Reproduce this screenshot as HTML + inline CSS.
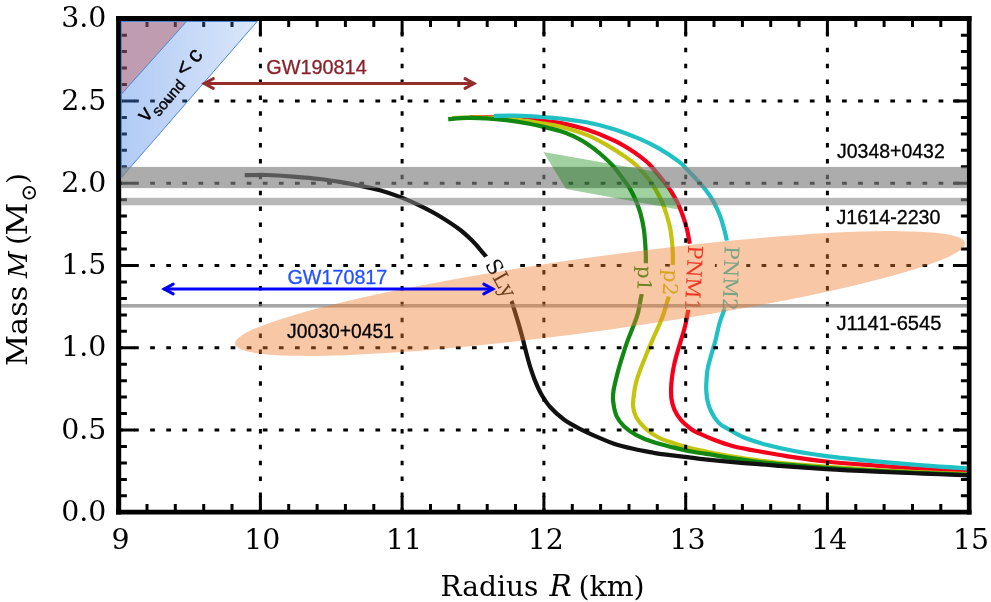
<!DOCTYPE html>
<html><head><meta charset="utf-8"><title>Mass-Radius</title>
<style>
html,body{margin:0;padding:0;background:#fff}
svg{display:block}
.ser{font-family:"DejaVu Serif","Liberation Serif",serif}
.san{font-family:"Liberation Sans","DejaVu Sans",sans-serif}
</style></head><body>
<svg width="991" height="602" viewBox="0 0 991 602">
<defs>
<linearGradient id="bg" gradientUnits="userSpaceOnUse" x1="121" y1="0" x2="257" y2="0"><stop offset="0" stop-color="rgb(73,134,232)" stop-opacity="0.43"/><stop offset="1" stop-color="rgb(73,134,232)" stop-opacity="0.2"/></linearGradient>
<clipPath id="ax"><rect x="118.6" y="18.7" width="850.6" height="493.6"/></clipPath>
</defs>
<rect width="991" height="602" fill="#fff"/>

<g fill="none" stroke-width="4.2" stroke-linecap="butt" stroke-linejoin="round" clip-path="url(#ax)">
<path stroke="#f5001a" d="M470.0 117.0 C476.1 117.1 497.0 117.2 506.4 117.6 C515.8 118.0 520.2 119.0 526.4 119.5 C532.6 120.0 538.1 120.3 543.7 120.9 C549.3 121.5 552.9 121.5 560.0 122.9 C567.1 124.4 577.7 126.7 586.6 129.6 C595.5 132.5 605.5 136.5 613.2 140.2 C621.0 143.8 627.6 147.9 633.1 151.5 C638.6 155.1 643.1 158.7 646.4 161.5 C649.7 164.3 650.3 165.3 653.1 168.5 C655.9 171.7 660.2 176.8 663.2 180.6 C666.2 184.4 668.7 187.5 671.1 191.3 C673.5 195.1 675.8 199.0 677.8 203.2 C679.8 207.4 681.5 212.1 683.1 216.5 C684.7 220.9 686.0 225.2 687.1 229.8 C688.2 234.4 689.3 241.5 689.7 243.8"/>
<path stroke="#f5001a" d="M688.3 309.7 C687.8 312.5 686.2 321.6 685.0 326.6 C683.8 331.6 682.4 335.5 681.1 339.9 C679.8 344.3 678.3 348.8 677.1 353.2 C675.9 357.6 674.6 362.3 673.8 366.4 C672.9 370.4 672.5 373.9 672.0 377.5 C671.5 381.1 671.2 384.7 671.1 388.3 C671.0 391.9 671.0 395.3 671.5 398.9 C672.0 402.4 672.8 406.1 674.4 409.6 C676.0 413.2 678.2 416.9 681.1 420.2 C684.0 423.5 688.6 427.2 691.7 429.5 C694.9 431.8 696.4 432.0 700.0 433.7 C703.6 435.4 707.8 437.4 713.3 439.5 C718.8 441.6 725.5 444.2 733.2 446.2 C741.0 448.2 750.9 449.9 759.8 451.5 C768.7 453.1 775.3 454.4 786.4 456.1 C797.5 457.8 811.3 459.9 826.3 461.5 C841.3 463.1 860.1 464.4 876.2 465.7 C892.4 467.0 907.7 468.1 923.2 469.1 C938.7 470.1 961.4 471.3 969.0 471.7"/>
<path stroke="#c4c410" d="M452.0 118.0 C456.1 117.9 467.4 117.2 476.5 117.3 C485.6 117.4 498.1 117.9 506.4 118.5 C514.7 119.1 520.2 120.1 526.4 120.9 C532.6 121.8 538.1 122.7 543.7 123.6 C549.3 124.5 552.9 124.6 560.0 126.5 C567.1 128.4 578.9 131.8 586.6 134.9 C594.4 138.0 599.9 141.1 606.5 144.9 C613.1 148.7 621.3 154.0 626.4 157.5 C631.5 161.0 633.4 162.5 637.1 166.1 C640.8 169.7 645.4 175.3 648.5 179.3 C651.6 183.3 653.5 185.9 655.8 189.9 C658.1 193.9 660.6 198.8 662.5 203.2 C664.4 207.6 665.8 212.1 667.1 216.5 C668.4 220.9 669.6 224.3 670.5 229.8 C671.4 235.3 672.3 243.8 672.7 249.7 C673.1 255.5 672.8 262.4 672.8 264.9"/>
<path stroke="#c4c410" d="M668.9 296.3 C668.6 297.2 668.0 299.2 667.1 302.0 C666.2 304.8 665.2 309.2 663.8 313.3 C662.4 317.4 660.4 322.2 658.5 326.6 C656.6 331.0 654.6 335.0 652.5 339.9 C650.4 344.8 647.8 350.9 645.8 355.8 C643.8 360.7 642.0 365.1 640.5 369.1 C639.0 373.1 637.8 376.1 636.8 379.7 C635.8 383.3 635.0 386.5 634.4 390.9 C633.8 395.3 632.8 401.8 633.1 406.2 C633.4 410.6 634.2 413.5 636.2 417.2 C638.2 420.9 641.5 424.8 645.2 428.2 C648.9 431.6 653.6 435.0 658.5 437.5 C663.4 440.0 668.6 441.5 674.4 443.4 C680.1 445.3 686.6 447.2 693.0 448.8 C699.4 450.4 707.4 451.9 713.0 453.0 C718.6 454.1 718.8 454.3 726.6 455.6 C734.4 456.9 748.7 459.2 759.8 460.6 C770.9 462.0 781.9 463.1 793.0 464.1 C804.1 465.1 812.4 465.6 826.3 466.6 C840.2 467.6 860.1 469.2 876.2 470.2 C892.4 471.1 907.7 471.6 923.2 472.3 C938.7 473.0 961.4 473.8 969.0 474.1"/>
<path stroke="#118811" d="M448.2 119.2 C451.3 119.0 460.2 118.1 466.6 117.9 C473.0 117.8 479.9 117.9 486.5 118.3 C493.1 118.7 499.8 119.4 506.4 120.2 C513.0 121.0 520.2 122.1 526.4 123.2 C532.6 124.3 538.1 125.6 543.7 126.9 C549.3 128.2 555.1 129.6 560.0 131.1 C564.9 132.6 568.9 134.1 573.3 136.2 C577.7 138.3 582.2 140.6 586.6 143.5 C591.0 146.4 595.5 149.7 599.9 153.5 C604.3 157.3 609.3 161.8 613.2 166.1 C617.1 170.4 620.5 175.6 623.3 179.3 C626.1 183.1 627.8 185.1 629.9 188.6 C632.0 192.1 634.1 196.4 635.9 200.6 C637.7 204.8 639.3 209.0 640.6 213.9 C641.9 218.8 643.1 223.8 643.9 229.8 C644.7 235.8 645.3 244.1 645.6 249.7 C645.9 255.3 645.9 261.1 645.9 263.4"/>
<path stroke="#118811" d="M641.8 294.0 C641.6 295.0 641.1 296.8 640.5 300.0 C639.9 303.2 639.1 308.9 637.9 313.3 C636.7 317.7 634.9 322.2 633.2 326.6 C631.5 331.0 629.7 335.0 627.9 339.9 C626.1 344.8 624.1 350.9 622.6 355.8 C621.1 360.7 619.7 365.1 618.6 369.1 C617.5 373.1 616.8 376.1 615.9 379.7 C615.0 383.3 614.0 387.2 613.5 390.9 C613.0 394.5 612.7 397.4 613.2 401.6 C613.7 405.8 614.7 411.9 616.5 416.0 C618.3 420.1 621.0 423.4 624.2 426.5 C627.4 429.6 631.1 432.2 635.9 434.8 C640.7 437.4 647.0 440.0 653.2 442.1 C659.4 444.2 666.5 445.8 673.1 447.4 C679.7 449.0 686.4 450.6 693.0 451.8 C699.6 453.1 707.4 454.0 713.0 454.9 C718.6 455.8 718.8 456.1 726.6 457.3 C734.4 458.5 748.7 460.7 759.8 462.0 C770.9 463.3 781.9 464.2 793.0 465.2 C804.1 466.2 812.4 466.9 826.3 467.9 C840.2 468.8 860.1 470.0 876.2 470.9 C892.4 471.8 907.7 472.3 923.2 473.0 C938.7 473.7 961.4 474.6 969.0 474.9"/>
<path stroke="#20c0c4" d="M493.8 116.0 C497.0 115.9 506.6 115.5 513.1 115.6 C519.6 115.6 527.5 116.0 533.0 116.3 C538.5 116.6 541.8 116.9 546.3 117.3 C550.8 117.7 553.3 117.7 560.0 118.5 C566.7 119.3 577.7 120.6 586.6 122.3 C595.5 124.0 604.4 126.1 613.2 128.9 C622.1 131.7 632.0 135.6 639.7 138.9 C647.5 142.2 653.1 145.0 659.7 148.9 C666.4 152.8 675.2 158.8 679.6 162.1 C684.0 165.4 683.5 165.9 686.3 168.8 C689.1 171.7 693.2 175.8 696.4 179.3 C699.6 182.8 702.8 186.1 705.7 189.9 C708.6 193.7 711.3 197.5 713.7 201.9 C716.1 206.3 718.5 211.8 720.3 216.5 C722.1 221.2 723.2 225.8 724.3 229.8 C725.4 233.9 726.5 239.0 726.9 240.8"/>
<path stroke="#20c0c4" d="M724.6 309.0 C723.8 311.3 721.1 317.9 719.6 323.0 C718.1 328.1 717.0 334.4 715.6 339.9 C714.2 345.4 712.3 350.9 711.0 355.8 C709.7 360.7 708.3 365.2 707.6 369.1 C706.9 373.0 706.8 375.7 706.6 379.0 C706.4 382.3 706.1 385.8 706.2 389.0 C706.3 392.2 706.6 395.2 707.0 398.0 C707.4 400.8 708.1 403.4 708.8 405.6 C709.5 407.8 710.0 409.0 711.0 411.0 C712.0 413.0 713.1 415.4 714.6 417.6 C716.1 419.8 717.8 422.1 720.0 424.0 C722.2 425.9 723.9 426.6 727.9 428.9 C731.9 431.1 737.5 434.9 743.9 437.5 C750.3 440.1 758.2 442.6 766.4 444.8 C774.6 447.0 783.0 448.9 793.0 450.8 C803.0 452.7 812.4 454.4 826.3 456.1 C840.2 457.9 860.1 459.8 876.2 461.3 C892.4 462.9 907.7 464.2 923.2 465.4 C938.7 466.6 961.4 468.0 969.0 468.5"/>
<path stroke="#111" d="M244.7 175.2 C248.3 175.2 258.5 174.8 266.6 175.0 C274.7 175.2 284.4 175.9 293.2 176.6 C302.0 177.3 311.9 178.1 319.7 179.0 C327.4 179.9 333.0 180.8 339.7 181.9 C346.4 183.0 353.3 184.3 360.0 185.7 C366.7 187.1 373.2 188.4 379.9 190.3 C386.5 192.2 393.2 194.4 399.9 196.9 C406.5 199.4 413.2 202.4 419.8 205.6 C426.4 208.8 433.1 212.2 439.7 216.2 C446.3 220.2 454.1 225.3 459.7 229.5 C465.2 233.7 469.6 238.1 473.0 241.4 C476.4 244.7 477.7 246.7 480.0 249.4 C482.3 252.1 485.7 256.1 486.8 257.4"/>
<path stroke="#111" d="M511.3 300.4 C512.0 302.4 513.9 308.4 515.2 312.6 C516.5 316.9 517.9 321.2 519.2 325.9 C520.5 330.5 522.0 335.9 523.2 340.5 C524.4 345.1 525.3 349.4 526.5 353.8 C527.7 358.2 528.9 362.7 530.2 367.0 C531.6 371.3 532.8 375.1 534.6 379.6 C536.5 384.1 538.6 389.6 541.3 394.2 C544.0 398.8 546.8 403.3 550.6 407.5 C554.4 411.7 559.0 415.9 563.9 419.5 C568.8 423.1 573.8 425.7 579.8 428.8 C585.8 431.9 594.4 435.7 600.0 438.1 C605.6 440.5 607.8 441.6 613.3 443.4 C618.8 445.2 626.6 447.2 633.2 448.8 C639.9 450.4 647.7 451.7 653.2 452.7 C658.7 453.7 658.6 453.7 666.4 454.7 C674.2 455.7 688.4 457.5 700.0 458.8 C711.6 460.1 722.5 461.2 735.8 462.4 C749.1 463.6 764.5 464.7 779.6 465.8 C794.7 466.9 810.2 468.1 826.3 469.1 C842.4 470.1 860.1 470.9 876.2 471.6 C892.4 472.4 907.7 473.0 923.2 473.6 C938.7 474.2 961.4 475.1 969.0 475.4"/>
</g>
<g stroke="#000" stroke-width="3" fill="none">
<path d="M118.0 430.0 H969.2" stroke-dasharray="4.7 11.39"/>
<path d="M118.0 347.8 H969.2" stroke-dasharray="4.7 11.39"/>
<path d="M118.0 265.5 H969.2" stroke-dasharray="4.7 11.39"/>
<path d="M118.0 183.2 H969.2" stroke-dasharray="4.7 11.39"/>
<path d="M118.0 101.0 H969.2" stroke-dasharray="4.7 11.39"/>
<path d="M260.4 512.8 V18.7" stroke-dasharray="4.5 11.38"/>
<path d="M402.1 512.8 V18.7" stroke-dasharray="4.5 11.38"/>
<path d="M543.9 512.8 V18.7" stroke-dasharray="4.5 11.38"/>
<path d="M685.7 512.8 V18.7" stroke-dasharray="4.5 11.38"/>
<path d="M827.4 512.8 V18.7" stroke-dasharray="4.5 11.38"/>
</g>
<g class="ser" text-anchor="middle">
<g transform="translate(501.2 278.0) rotate(60.5)"><rect x="-26.0" y="-17.0" width="51.0" height="30.0" fill="#fff"/><text transform="scale(1.000 1)" x="0" y="7.7" fill="#111" font-size="21.4">SLy</text></g>
<g transform="translate(644.8 278.6) rotate(92.0)"><rect x="-15.1" y="-13.5" width="30.6" height="27.0" fill="#fff"/><text transform="scale(1.000 1)" x="0" y="7.1" fill="#118811" font-size="19.6">p1</text></g>
<g transform="translate(670.8 282.6) rotate(94.0)"><rect x="-15.7" y="-12.5" width="29.5" height="25.0" fill="#fff"/><text transform="scale(1.000 1)" x="0" y="7.3" fill="#c4c410" font-size="20.4">p2</text></g>
<g transform="translate(694.0 278.6) rotate(93.0)"><rect x="-34.5" y="-20.2" width="65.7" height="34.3" fill="#fff"/><text transform="scale(1.000 1)" x="0" y="7.5" fill="#f5001a" font-size="20.7">PNM1</text></g>
<g transform="translate(731.0 278.4) rotate(92.0)"><rect x="-37.4" y="-14.8" width="68.0" height="29.5" fill="#fff"/><text transform="scale(1.000 1)" x="0" y="7.3" fill="#20c0c4" font-size="20.2">PNM2</text></g>
</g>
<g stroke="#000" fill="none">
<path d="M118.65 16 V514.6" stroke-width="5.1"/><path d="M969.2 16 V514.6" stroke-width="4.7"/><path d="M116.1 18.45 H971.5" stroke-width="4.9"/><path d="M116.1 512.2 H971.5" stroke-width="4.7"/>
<path d="M260.4 512.3 v-16.2 M260.4 18.7 v16.2 M402.1 512.3 v-16.2 M402.1 18.7 v16.2 M543.9 512.3 v-16.2 M543.9 18.7 v16.2 M685.7 512.3 v-16.2 M685.7 18.7 v16.2 M827.4 512.3 v-16.2 M827.4 18.7 v16.2 M118.6 430.0 h16.2 M969.2 430.0 h-16.2 M118.6 347.8 h16.2 M969.2 347.8 h-16.2 M118.6 265.5 h16.2 M969.2 265.5 h-16.2 M118.6 183.2 h16.2 M969.2 183.2 h-16.2 M118.6 101.0 h16.2 M969.2 101.0 h-16.2 " stroke-width="3"/>
<path d="M147.0 512.3 v-8.3 M147.0 18.7 v8.3 M175.3 512.3 v-8.3 M175.3 18.7 v8.3 M203.7 512.3 v-8.3 M203.7 18.7 v8.3 M232.0 512.3 v-8.3 M232.0 18.7 v8.3 M288.7 512.3 v-8.3 M288.7 18.7 v8.3 M317.1 512.3 v-8.3 M317.1 18.7 v8.3 M345.4 512.3 v-8.3 M345.4 18.7 v8.3 M373.8 512.3 v-8.3 M373.8 18.7 v8.3 M430.5 512.3 v-8.3 M430.5 18.7 v8.3 M458.8 512.3 v-8.3 M458.8 18.7 v8.3 M487.2 512.3 v-8.3 M487.2 18.7 v8.3 M515.5 512.3 v-8.3 M515.5 18.7 v8.3 M572.3 512.3 v-8.3 M572.3 18.7 v8.3 M600.6 512.3 v-8.3 M600.6 18.7 v8.3 M629.0 512.3 v-8.3 M629.0 18.7 v8.3 M657.3 512.3 v-8.3 M657.3 18.7 v8.3 M714.0 512.3 v-8.3 M714.0 18.7 v8.3 M742.4 512.3 v-8.3 M742.4 18.7 v8.3 M770.7 512.3 v-8.3 M770.7 18.7 v8.3 M799.1 512.3 v-8.3 M799.1 18.7 v8.3 M855.8 512.3 v-8.3 M855.8 18.7 v8.3 M884.1 512.3 v-8.3 M884.1 18.7 v8.3 M912.5 512.3 v-8.3 M912.5 18.7 v8.3 M940.8 512.3 v-8.3 M940.8 18.7 v8.3 M118.6 495.8 h8.3 M969.2 495.8 h-8.3 M118.6 479.4 h8.3 M969.2 479.4 h-8.3 M118.6 462.9 h8.3 M969.2 462.9 h-8.3 M118.6 446.5 h8.3 M969.2 446.5 h-8.3 M118.6 413.6 h8.3 M969.2 413.6 h-8.3 M118.6 397.1 h8.3 M969.2 397.1 h-8.3 M118.6 380.7 h8.3 M969.2 380.7 h-8.3 M118.6 364.2 h8.3 M969.2 364.2 h-8.3 M118.6 331.3 h8.3 M969.2 331.3 h-8.3 M118.6 314.9 h8.3 M969.2 314.9 h-8.3 M118.6 298.4 h8.3 M969.2 298.4 h-8.3 M118.6 282.0 h8.3 M969.2 282.0 h-8.3 M118.6 249.0 h8.3 M969.2 249.0 h-8.3 M118.6 232.6 h8.3 M969.2 232.6 h-8.3 M118.6 216.1 h8.3 M969.2 216.1 h-8.3 M118.6 199.7 h8.3 M969.2 199.7 h-8.3 M118.6 166.8 h8.3 M969.2 166.8 h-8.3 M118.6 150.3 h8.3 M969.2 150.3 h-8.3 M118.6 133.9 h8.3 M969.2 133.9 h-8.3 M118.6 117.4 h8.3 M969.2 117.4 h-8.3 M118.6 84.5 h8.3 M969.2 84.5 h-8.3 M118.6 68.1 h8.3 M969.2 68.1 h-8.3 M118.6 51.6 h8.3 M969.2 51.6 h-8.3 M118.6 35.2 h8.3 M969.2 35.2 h-8.3 " stroke-width="3"/>
</g>
<path d="M186.7 21.3 H257.3 L121 178 V94.6 Z" fill="url(#bg)"/>
<path d="M121 21.3 H186.7 L121 94.6 Z" fill="rgb(145,85,120)" fill-opacity="0.585"/>
<path d="M257.3 21.3 L121 178 M186.7 21.3 L121 94.6 M121.3 178 V21.5 H257" fill="none" stroke="#4a86d0" stroke-width="1"/>
<rect x="121.3" y="166.9" width="845.6" height="21.2" fill="rgb(128,128,128)" fill-opacity="0.65"/>
<rect x="121.3" y="197.8" width="845.6" height="7.5" fill="rgb(128,128,128)" fill-opacity="0.56"/>
<rect x="121" y="304" width="846" height="3.6" fill="rgb(128,128,128)" fill-opacity="0.7"/>
<path d="M543.4 152 L655.2 171.7 Q670 188 678.4 209.5 L566 188.9 Z" fill="rgb(0,128,0)" fill-opacity="0.37"/>
<ellipse cx="600" cy="293.5" rx="368.5" ry="37" transform="rotate(-7.88 600 293.5)" fill="#ed7d31" fill-opacity="0.43"/>
<g stroke="#962d2d" stroke-width="3.0" fill="none" stroke-linecap="round" stroke-linejoin="miter"><path d="M204.3 83.5 H474.0"/><path d="M213.3 78.6 L204.3 83.5 L213.3 88.4"/><path d="M465.0 78.6 L474.0 83.5 L465.0 88.4"/></g>
<g stroke="#0000ff" stroke-width="3.0" fill="none" stroke-linecap="round" stroke-linejoin="miter"><path d="M164.2 289.0 H492.8"/><path d="M173.2 284.1 L164.2 289.0 L173.2 293.9"/><path d="M483.8 284.1 L492.8 289.0 L483.8 293.9"/></g>
<g class="san" font-size="19">
<text x="266.2" y="74.2" fill="#87222a" stroke="#87222a" stroke-width="0.3" font-size="20.5" textLength="100.5" lengthAdjust="spacingAndGlyphs">GW190814</text>
<text x="287.5" y="284.2" fill="#2450ff" stroke="#2450ff" stroke-width="0.3" font-size="20.5" textLength="99.8" lengthAdjust="spacingAndGlyphs">GW170817</text>
<text x="837.0" y="157.6" fill="#000" stroke="#000" stroke-width="0.3" font-size="20.5" textLength="107.8" lengthAdjust="spacingAndGlyphs">J0348+0432</text>
<text x="836.5" y="224.0" fill="#000" stroke="#000" stroke-width="0.3" font-size="20.5" textLength="104.0" lengthAdjust="spacingAndGlyphs">J1614-2230</text>
<text x="836.5" y="330.0" fill="#000" stroke="#000" stroke-width="0.3" font-size="20.5" textLength="105.0" lengthAdjust="spacingAndGlyphs">J1141-6545</text>
<text x="287.0" y="337.7" fill="#000" stroke="#000" stroke-width="0.3" font-size="20.5" textLength="107.0" lengthAdjust="spacingAndGlyphs">J0030+0451</text>
<g transform="translate(146.5 123) rotate(-49.5)"><text x="0" y="0" font-size="22.5" stroke="#000" stroke-width="0.35">v<tspan font-size="15.5" dy="5.5" dx="1">sound</tspan><tspan dy="-5.5" dx="-1.5"> &lt;</tspan><tspan dx="-1.5"> c</tspan></text></g>
</g>
<g class="ser" font-size="28.4" fill="#000">
<text x="106.4" y="520.8" text-anchor="end">0.0</text>
<text x="106.4" y="438.5" text-anchor="end">0.5</text>
<text x="106.4" y="356.3" text-anchor="end">1.0</text>
<text x="106.4" y="274.0" text-anchor="end">1.5</text>
<text x="106.4" y="191.7" text-anchor="end">2.0</text>
<text x="106.4" y="109.5" text-anchor="end">2.5</text>
<text x="106.4" y="27.2" text-anchor="end">3.0</text>
<text x="120.5" y="549.4" text-anchor="middle">9</text>
<text x="262.3" y="549.4" text-anchor="middle">10</text>
<text x="404.0" y="549.4" text-anchor="middle">11</text>
<text x="545.8" y="549.4" text-anchor="middle">12</text>
<text x="687.6" y="549.4" text-anchor="middle">13</text>
<text x="829.3" y="549.4" text-anchor="middle">14</text>
<text x="971.1" y="549.4" text-anchor="middle">15</text>
<text y="595.5" font-size="28"><tspan x="440.6">Radius</tspan><tspan x="549.4" font-style="italic" font-size="29.5">R</tspan><tspan x="578.4" font-size="28.4">(km)</tspan></text>
<g transform="translate(27.2 364.1) rotate(-90)"><text font-size="28"><tspan x="-2.0" y="0" textLength="80.5" lengthAdjust="spacingAndGlyphs">Mass</tspan><tspan x="86.2" y="0" font-style="italic" font-size="26">M</tspan><tspan x="119.0" y="0">(</tspan><tspan x="128.6" y="0" textLength="33" lengthAdjust="spacingAndGlyphs">M</tspan><tspan x="162.4" y="8.9" font-size="21.5">⊙</tspan><tspan x="180.0" y="0">)</tspan></text></g>
</g>
</svg></body></html>
